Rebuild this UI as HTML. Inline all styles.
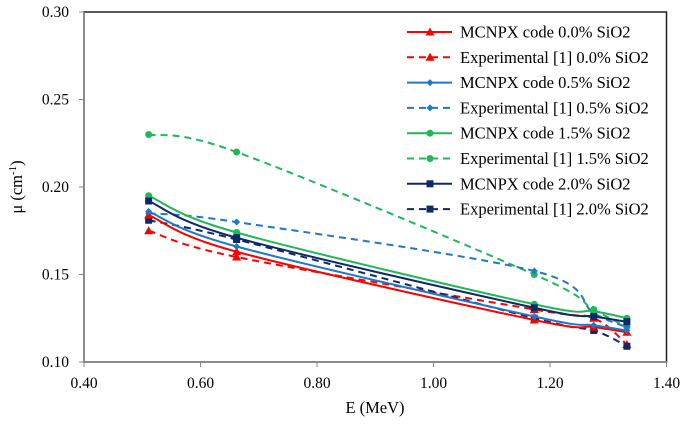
<!DOCTYPE html>
<html><head><meta charset="utf-8"><style>
body{margin:0;background:#fff}
text{font-family:"Liberation Serif",serif;fill:#000}
</style></head><body>
<svg width="685" height="421" xmlns="http://www.w3.org/2000/svg">
<g id="axes"></g>
<g id="series"></g>
<g id="legend"></g>
</svg>
<script>
const energies=[0.511,0.662,1.173,1.275,1.332];
const mc00=[0.184,0.163,0.124,0.120,0.117];
const ex00=[0.175,0.160,0.130,0.125,0.110];
const mc05=[0.186,0.166,0.126,0.121,0.118];
const ex05=[0.185,0.180,0.152,0.128,0.120];
const mc15=[0.195,0.174,0.133,0.129,0.125];
const ex15=[0.230,0.220,0.150,0.130,0.120];
const mc20=[0.192,0.171,0.131,0.126,0.123];
const ex20=[0.181,0.170,0.125,0.118,0.109];
const xTicks=[0.4,0.6,0.8,1.0,1.2,1.4];
const yTicks=[0.10,0.15,0.20,0.25,0.30];
const labels=["MCNPX code 0.0% SiO2","Experimental [1] 0.0% SiO2","MCNPX code 0.5% SiO2","Experimental [1] 0.5% SiO2","MCNPX code 1.5% SiO2","Experimental [1] 1.5% SiO2","MCNPX code 2.0% SiO2","Experimental [1] 2.0% SiO2"];
const NS="http://www.w3.org/2000/svg";
const X=v=>84+(v-0.4)*582.5, Y=v=>362-(v-0.1)*1750;
function mk(t,a,p){const e=document.createElementNS(NS,t);for(const k in a)e.setAttribute(k,a[k]);p.appendChild(e);return e;}
const ax=document.getElementById('axes');
const frame=mk('rect',{x:84,y:12,width:582.5,height:350,fill:'none',stroke:'#222','stroke-width':1.5},ax);

const la=mk('line',{x1:84,y1:12,x2:84,y2:362,stroke:'#888','stroke-width':1.5},ax);

const lb=mk('line',{x1:84,y1:362,x2:667,y2:362,stroke:'#888','stroke-width':1.5},ax);

xTicks.forEach(v=>{mk('line',{x1:X(v),y1:362,x2:X(v),y2:367,stroke:'#888'},ax);
const t=mk('text',{x:X(v),y:388,'text-anchor':'middle','font-size':15.5},ax);t.textContent=v.toFixed(2);
});
yTicks.forEach(v=>{mk('line',{x1:79,y1:Y(v),x2:84,y2:Y(v),stroke:'#888'},ax);
const t=mk('text',{x:69,y:Y(v)+5,'text-anchor':'end','font-size':15.5},ax);t.textContent=v.toFixed(2);
});
const xt=mk('text',{x:375,y:413,'text-anchor':'middle','font-size':16.5},ax);xt.textContent='E (MeV)';

const yt=mk('text',{x:0,y:0,'text-anchor':'middle','font-size':16.5,transform:'translate(22,187) rotate(-90)'},ax);
yt.innerHTML='μ (cm<tspan baseline-shift="super" font-size="11">-1</tspan>)';

function smooth(pts){let d='M'+pts[0][0]+','+pts[0][1];
for(let i=0;i<pts.length-1;i++){const p0=pts[i-1]||pts[i],p1=pts[i],p2=pts[i+1],p3=pts[i+2]||p2;const k=1/6;
d+=' C'+(p1[0]+(p2[0]-p0[0])*k)+','+(p1[1]+(p2[1]-p0[1])*k)+' '+(p2[0]-(p3[0]-p1[0])*k)+','+(p2[1]-(p3[1]-p1[1])*k)+' '+p2[0]+','+p2[1];}return d;}
function marker(shape,x,y,c,p){
if(shape==='tri')return mk('polygon',{points:`${x},${y-4.5} ${x-4.5},${y+3.5} ${x+4.5},${y+3.5}`,fill:c},p);
if(shape==='dia')return mk('polygon',{points:`${x},${y-3.5} ${x+3.5},${y} ${x},${y+3.5} ${x-3.5},${y}`,fill:c},p);
if(shape==='cir')return mk('circle',{cx:x,cy:y,r:3.5,fill:c},p);
return mk('rect',{x:x-3.5,y:y-3.5,width:7,height:7,fill:c},p);}
const defs=[[mc00,'#ff0000','tri',false],[ex00,'#ff0000','tri',true],[mc05,'#1f78c8','dia',false],[ex05,'#1f78c8','dia',true],[mc15,'#1db954','cir',false],[ex15,'#1db954','cir',true],[mc20,'#0d2a66','sq',false],[ex20,'#0d2a66','sq',true]];
const sg=document.getElementById('series'),lg=document.getElementById('legend');
const order=[5,3,1,7,0,2,4,6];
order.forEach(i=>{const [vals,c,sh,dash]=defs[i];
const g=mk('g',{},sg);
const pts=energies.map((e,j)=>[X(e),Y(vals[j])]);
const a={d:smooth(pts),fill:'none',stroke:c,'stroke-width':2};if(dash)a['stroke-dasharray']='7,5';
const path=mk('path',a,g);
pts.forEach(p=>{const m=marker(sh,p[0],p[1],c,g);});});
defs.forEach((d,i)=>{const y=32+i*25.3;const g=mk('g',{},lg);

const a={x1:407,y1:y,x2:452,y2:y,stroke:d[1],'stroke-width':2};if(d[3])a['stroke-dasharray']='7,5';mk('line',a,g);
marker(d[2],430,y,d[1],g);
const t=mk('text',{x:460,y:y+5.5,'font-size':16.5},g);t.textContent=labels[i];});
</script>
</body></html>
